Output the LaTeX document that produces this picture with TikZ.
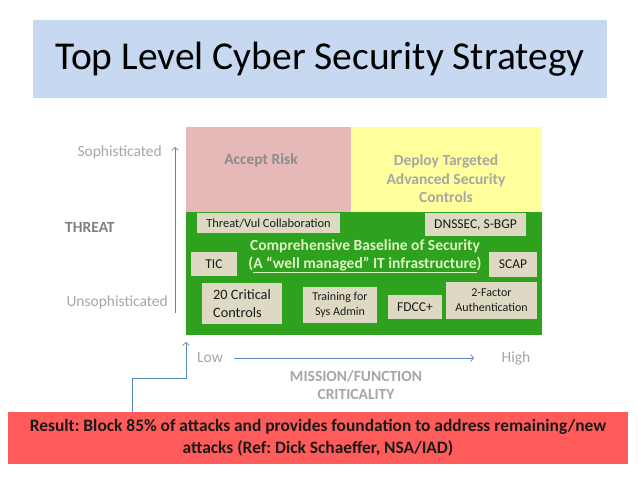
\documentclass[tikz,border=0pt]{standalone}
\usepackage{fontspec}
\setmainfont{Carlito}
\usepackage{tikz}
\usetikzlibrary{arrows.meta,positioning}
\frenchspacing
\definecolor{ink}{HTML}{1A1A1A}
\definecolor{inkgray}{HTML}{A6A6A6}
\definecolor{darkgray}{HTML}{8C8C8C}
\definecolor{titlebg}{HTML}{C6D9F1}
\definecolor{riskbg}{HTML}{E6B9B8}
\definecolor{deploybg}{HTML}{FFFF9C}
\definecolor{basegreen}{HTML}{2EA11E}
\definecolor{basetext}{HTML}{DDF3C4}
\definecolor{tanbg}{HTML}{DDD9C3}
\definecolor{resultbg}{HTML}{FF5B5B}
\definecolor{axisblue}{HTML}{5B87C0}
\newcommand{\fsz}[2]{\fontsize{#1}{#2}\selectfont}
\tikzset{
  axisarr/.style={-{Straight Barb[length=3pt,width=7pt]},line width=0.7pt,draw=axisblue},
  zone/.style={draw=none,inner sep=0pt,outer sep=0pt},
  tanbox/.style={fill=tanbg,draw=none,inner sep=0pt,outer sep=0pt,align=center,text=ink},
  graylabel/.style={text=inkgray,inner sep=0pt,font=\fsz{15.5}{18}},
  boldlabel/.style={text=darkgray,inner sep=0pt,align=center,font=\fsz{15.5}{18.5}\bfseries}
}

\begin{document}
\begin{tikzpicture}[x=1pt,y=-1pt]
  \useasboundingbox (0,0) rectangle (638,479);
  % title
  \node[zone,fill=titlebg,minimum width=574pt,minimum height=78pt,font=\fsz{39.5}{44}] (title) at (320,59) {Top Level Cyber Security Strategy};

  % zones
  \node[zone,fill=riskbg,minimum width=165pt,minimum height=85pt] (risk) at (268.5,169.5) {};
  \node[zone,fill=deploybg,minimum width=191pt,minimum height=85pt] (deploy) at (446.5,169.5) {};
  \node[zone,fill=basegreen,minimum width=356pt,minimum height=123pt] (base) at (364,273.5) {};
  \node[boldlabel] (risktxt) at (261,160) {Accept Risk};
  \node[boldlabel,text=inkgray] (deploytxt) at (446,179) {Deploy Targeted\\Advanced Security\\Controls};
  \node[inner sep=0pt,align=center,text=basetext,font=\fsz{15.5}{18}\bfseries] (basetxt) at (365,256)
    {Comprehensive Baseline of Security\\(\underline{A “well managed” IT infrastructure})};

  % measures
  \node[tanbox,minimum width=143pt,minimum height=20pt,font=\fsz{12.4}{14}] (collab) at (268.5,223) {Threat/Vul Collaboration};
  \node[tanbox,minimum width=101pt,minimum height=23pt,font=\fsz{13.5}{15}] (dnssec) at (475.5,224.5) {DNSSEC, S-BGP};
  \node[tanbox,minimum width=46pt,minimum height=24pt,font=\fsz{13.5}{15}] (tic) at (214,264) {TIC};
  \node[tanbox,minimum width=48pt,minimum height=25pt,font=\fsz{13.5}{15}] (scap) at (513,264.5) {SCAP};
  \node[tanbox,minimum width=80pt,minimum height=41pt,align=left,font=\fsz{14.3}{18}] (critical) at (242,303.5) {20 Critical\\Controls};
  \node[tanbox,minimum width=74pt,minimum height=36pt,font=\fsz{12}{15}] (training) at (340,305) {Training for\\Sys Admin};
  \node[tanbox,minimum width=54pt,minimum height=24pt,font=\fsz{13.5}{15}] (fdcc) at (415,307) {FDCC+};
  \node[tanbox,minimum width=91pt,minimum height=37pt,font=\fsz{12}{15}] (twofactor) at (491.5,300.5) {2-Factor\\Authentication};

  % threat axis
  \coordinate (tbot) at (175,313);
  \coordinate (ttop) at (175,147);
  \draw[axisarr] (tbot) -- (ttop);
  \node[graylabel,anchor=east] (soph) at (162,152) {Sophisticated};
  \node[graylabel,anchor=east] (unsoph) at (168,302) {Unsophisticated};
  \node[boldlabel,text=gray,anchor=west] (threat) at (65,227) {THREAT};

  % criticality axis
  \node[graylabel] (low) at (210,358) {Low};
  \node[graylabel] (high) at (516,358) {High};
  \draw[axisarr] (low.east) ++(11,0) coordinate (lstart) -- ++(240,0) coordinate (lend);
  \node[boldlabel,text=inkgray] (crit) at (356,385) {MISSION/FUNCTION\\CRITICALITY};

  % result
  \node[zone,fill=resultbg,minimum width=620pt,minimum height=52pt,align=center,text=ink,font=\fsz{17.4}{22.5}\bfseries] (result) at (318,437.5)
    {Result: Block 85\% of attacks and provides foundation to address remaining/new\\attacks (Ref: Dick Schaeffer, NSA/IAD)};
  \coordinate (step) at (186,342);
  \draw[axisarr] (result.north -| 132,0) |- (186,378) -- (step);
\end{tikzpicture}
\end{document}
